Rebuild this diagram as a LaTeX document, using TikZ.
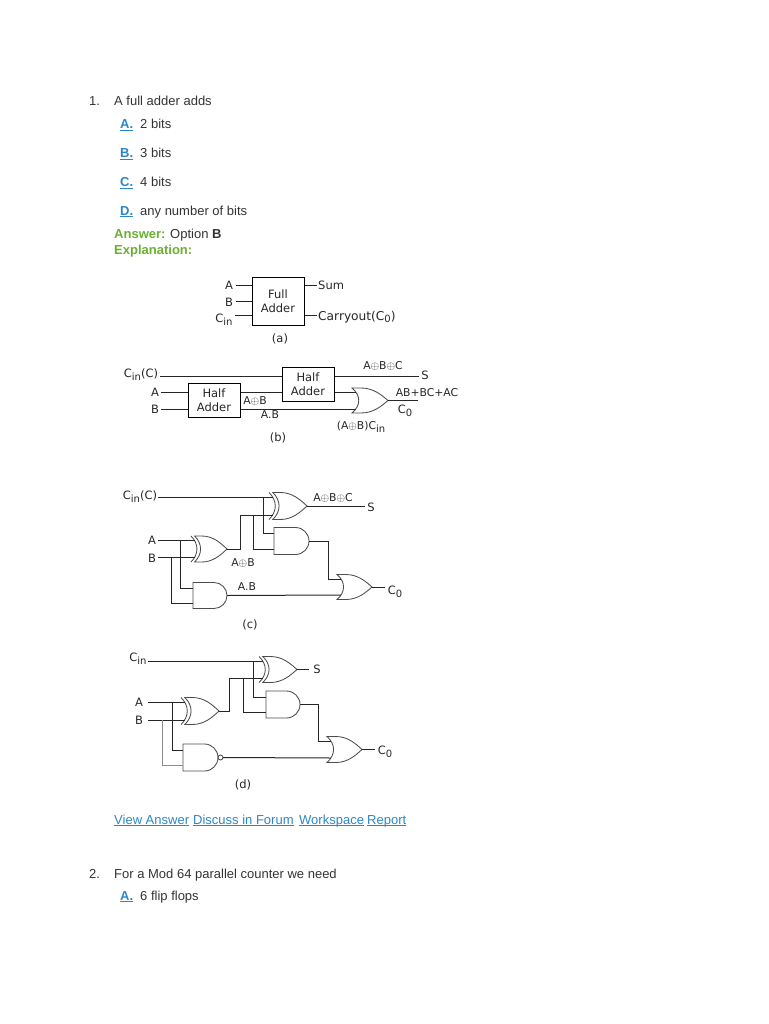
\documentclass[tikz,border=0pt]{standalone}
\usepackage{fontspec}
\setmainfont{Liberation Sans}
\newfontfamily\figfont{DejaVu Sans}
\definecolor{linkblue}{HTML}{2A86C8}
\definecolor{answergreen}{HTML}{6CAE32}
\definecolor{bodygray}{HTML}{333333}
\newcommand{\xo}{\ensuremath{\oplus}}
\newcommand{\subs}[1]{\raisebox{-2.8pt}{\fontsize{10}{10}\selectfont #1}}

\tikzset{
  % #1 width, #2 height, #3 distance between the inputs
  pics/orgate/.style n args={3}{code={
    \draw [gateline] ({-#1/2},{-#2/2}) -- ({-.25*#1},{-#2/2})
      .. controls ({.1*#1},{-#2/2}) and ({.32*#1},{-.22*#2}) .. ({#1/2},0)
      .. controls ({.32*#1},{.22*#2}) and ({.1*#1},{#2/2}) .. ({-.25*#1},{#2/2})
      -- ({-#1/2},{#2/2})
      .. controls ({-.25*#1},{.2*#2}) and ({-.25*#1},{-.2*#2}) .. cycle;
    \coordinate (-in1) at ({-.39*#1},{-#3/2});
    \coordinate (-in2) at ({-.39*#1},{#3/2});
    \coordinate (-out) at ({#1/2},0);
  }},
  pics/xorgate/.style n args={3}{code={
    \draw [gateline] ({-.4*#1},{-#2/2}) -- ({-.2*#1},{-#2/2})
      .. controls ({.12*#1},{-#2/2}) and ({.33*#1},{-.22*#2}) .. ({#1/2},0)
      .. controls ({.33*#1},{.22*#2}) and ({.12*#1},{#2/2}) .. ({-.2*#1},{#2/2})
      -- ({-.4*#1},{#2/2})
      .. controls ({-.18*#1},{.2*#2}) and ({-.18*#1},{-.2*#2}) .. cycle;
    \draw [gateline] ({-.5*#1},{-#2/2})
      .. controls ({-.28*#1},{-.2*#2}) and ({-.28*#1},{.2*#2}) .. ({-.5*#1},{#2/2});
    \coordinate (-in1) at ({-.39*#1},{-#3/2});
    \coordinate (-in2) at ({-.39*#1},{#3/2});
    \coordinate (-out) at ({#1/2},0);
  }},
  pics/andgate/.style n args={3}{code={
    \draw [gateline] ({-#1/2},{-#2/2}) -- ({#1/2-#2/2},{-#2/2})
      .. controls ({#1/2-.225*#2},{-#2/2}) and ({#1/2},{-.275*#2}) .. ({#1/2},0)
      .. controls ({#1/2},{.275*#2}) and ({#1/2-.225*#2},{#2/2}) .. ({#1/2-#2/2},{#2/2})
      -- ({-#1/2},{#2/2}) -- cycle;
    \coordinate (-in1) at ({-#1/2},{-#3/2});
    \coordinate (-in2) at ({-#1/2},{#3/2});
    \coordinate (-out) at ({#1/2},0);
  }},
  pics/nandgate/.style n args={3}{code={
    \pic (-body) {andgate={#1}{#2}{#3}};
    \draw [gateline] ({#1/2+2.5},0) circle [radius=2.5];
    \coordinate (-in1) at ({-#1/2},{-#3/2});
    \coordinate (-in2) at ({-#1/2},{#3/2});
    \coordinate (-out) at ({#1/2+5},0);
  }}
}

\begin{document}
\begin{tikzpicture}[
          x=1pt,
          y=-1pt,
          body/.style={
            anchor=base west,
            inner sep=0pt,
            text=bodygray,
            font=\fontsize{13}{15}\selectfont
          },
          option/.style={
            body,
            text=linkblue,
            font=\fontsize{13}{15}\selectfont\bfseries
          },
          link/.style={
            body,
            text=linkblue
          },
          green/.style={
            body,
            text=answergreen,
            font=\fontsize{13}{15}\selectfont\bfseries
          },
          fig/.style={
            inner sep=0pt,
            text=black!85,
            font=\figfont\fontsize{11.5}{13}\selectfont
          },
          small/.style={
            inner sep=0pt,
            text=black!85,
            font=\figfont\fontsize{10.8}{12}\selectfont
          },
          block/.style={
            draw=black,
            line width=1pt,
            inner sep=0pt,
            align=center,
            font=\figfont\fontsize{11.5}{14}\selectfont,
            text=black!85
          },
          wire/.style={
            draw=black!85,
            line width=1pt
          },
          gateline/.style={
            draw=black!70,
            line width=.85pt
          }
        ]
        \useasboundingbox (0,0) rectangle (768,1024);
        % question 1
        \node (num1) at (89,106) [body] {1.};
        \node (ques1) at (114,106) [body] {A full adder adds};
        \node (optA) at (120,129) [option] {\underline{A.}};
        \node (txtA) at (140,129) [body] {2 bits};
        \node (optB) at (120,158) [option] {\underline{B.}};
        \node (txtB) at (140,158) [body] {3 bits};
        \node (optC) at (120,187) [option] {\underline{C.}};
        \node (txtC) at (140,187) [body] {4 bits};
        \node (optD) at (120,215) [option] {\underline{D.}};
        \node (txtD) at (140,215) [body] {any number of bits};
        \node (answer) at (114,238) [green] {Answer:};
        \node (optn) at (170,238) [body] {Option \textbf{B}};
        \node (expl) at (114,254) [green] {Explanation:};

        % (a)
        \node (full) at (278,301) [block,minimum width=52pt,minimum height=48pt] {Full\\Adder};
        \node (aA) at (229,285) [fig] {A};
        \node (aB) at (229,302) [fig] {B};
        \node (aC) at (224,320) [fig] {C\subs{in}};
        \node (aSum) at (318,285) [fig,anchor=west] {Sum};
        \node (aCar) at (318,317) [fig,anchor=west,font=\figfont\fontsize{12.2}{14}\selectfont] {Carryout(C\subs{0})};
        \node (aCap) at (280,339) [fig] {(a)};
        \coordinate (aAe) at (236,285);
        \coordinate (aBe) at (236,301);
        \coordinate (aCe) at (235,315);
        \coordinate (aSe) at (317,285);
        \coordinate (aDe) at (317,315);
        \draw [wire] (aAe) -- (aAe -| full.west);
        \draw [wire] (aBe) -- (aBe -| full.west);
        \draw [wire] (aCe) -- (aCe -| full.west);
        \draw [wire] (aSe -| full.east) -- (aSe);
        \draw [wire] (aDe -| full.east) -- (aDe);

        % (b)
        \node (ha1) at (214,400) [block,minimum width=52pt,minimum height=34pt] {Half\\Adder};
        \node (ha2) at (308,384) [block,minimum width=52pt,minimum height=34pt] {Half\\Adder};
        \pic (orB) at (370,400.5) {orgate={36}{25}{17}};
        \node (bC) at (141,375) [fig] {C\subs{in}(C)};
        \node (bA) at (155,392) [fig] {A};
        \node (bB) at (155,409) [fig] {B};
        \node (bS) at (425,375) [fig] {S};
        \node (bSum) at (383,366) [small] {A\xo B\xo C};
        \node (bCar) at (427,393) [small] {AB+BC+AC};
        \node (bCo) at (405,411) [fig] {C\subs{0}};
        \node (bAb) at (255,401) [small] {A\xo B};
        \node (bAc) at (270,415) [small] {A.B};
        \node (bMix) at (361,427) [small] {(A\xo B)C\subs{in}};
        \node (bCap) at (278,438) [fig] {(b)};
        \coordinate (bCe) at (160,376);
        \coordinate (bAe) at (161,392);
        \coordinate (bBe) at (161,409);
        \coordinate (bSe) at (419,376);
        \coordinate (bOe) at (418,400.5);
        \draw [wire] (bCe) -- (bCe -| ha2.west);
        \draw [wire] (bCe -| ha2.east) -- (bSe);
        \draw [wire] (bAe) -- (bAe -| ha1.west);
        \draw [wire] (bBe) -- (bBe -| ha1.west);
        \draw [wire] (bAe -| ha1.east) -- (bAe -| ha2.west);
        \draw [wire] (bAe -| ha2.east) -- (orB-in1);
        \draw [wire] (bBe -| ha1.east) -- (orB-in2);
        \draw [wire] (orB-out) -- (bOe);

        % (c)
        \pic (xorS) at (288,506) {xorgate={38}{27}{18}};
        \pic (xorH) at (209,549) {xorgate={36}{26}{17}};
        \pic (andU) at (291.5,541) {andgate={35}{27}{16}};
        \pic (andL) at (210,595.5) {andgate={34}{26}{15}};
        \pic (orC) at (354.5,587) {orgate={35}{25}{16}};
        \node (cC) at (140,497) [fig] {C\subs{in}(C)};
        \node (cA) at (152,540) [fig] {A};
        \node (cB) at (152,558) [fig] {B};
        \node (cS) at (371,507) [fig] {S};
        \node (cSum) at (333,498) [small] {A\xo B\xo C};
        \node (cAb) at (243,563) [small] {A\xo B};
        \node (cAc) at (247,587) [small] {A.B};
        \node (cCo) at (395,592) [fig] {C\subs{0}};
        \node (cCap) at (250,625) [fig] {(c)};
        \coordinate (cCe) at (158,497);
        \coordinate (cAe) at (158,540.5);
        \coordinate (cBe) at (158,557.5);
        \coordinate (cSe) at (365,506);
        \coordinate (cOe) at (385,587);
        \coordinate (cJ1) at (263,497);
        \coordinate (cJ2) at (240,515);
        \coordinate (cJ3) at (253,515);
        \coordinate (cJ4) at (180,540.5);
        \coordinate (cJ5) at (171,557.5);
        \coordinate (cJ6) at (328,579);
        \draw [wire] (cCe) -- (xorS-in1);
        \draw [wire] (xorS-out) -- (cSe);
        \draw [wire] (xorH-out) -| (cJ2) -- (xorS-in2);
        \draw [wire] (cJ1) |- (andU-in1);
        \draw [wire] (cJ3) |- (andU-in2);
        \draw [wire] (cAe) -- (xorH-in1);
        \draw [wire] (cBe) -- (xorH-in2);
        \draw [wire] (cJ4) |- (andL-in1);
        \draw [wire] (cJ5) |- (andL-in2);
        \draw [wire] (andU-out) -| (cJ6) -- (orC-in1);
        \draw [wire] (andL-out) -- (orC-in2);
        \draw [wire] (orC-out) -- (cOe);

        % (d)
        \pic (xorT) at (278,669.5) {xorgate={38}{26}{17}};
        \pic (xorI) at (200,711) {xorgate={38}{27}{18}};
        \pic (andD) at (283,704.5) {andgate={34}{27}{15}};
        \pic (nandD) at (200.5,757.5) {nandgate={35}{27}{15}};
        \pic (orD) at (344.5,749.5) {orgate={35}{26}{17}};
        \node (dC) at (138,659) [fig] {C\subs{in}};
        \node (dA) at (139,702) [fig] {A};
        \node (dB) at (139,720) [fig] {B};
        \node (dS) at (317,669) [fig] {S};
        \node (dCo) at (385,752) [fig] {C\subs{0}};
        \node (dCap) at (243,785) [fig] {(d)};
        \coordinate (dCe) at (148,661);
        \coordinate (dAe) at (148,702);
        \coordinate (dBe) at (148,720);
        \coordinate (dSe) at (309,669.5);
        \coordinate (dOe) at (375,749.5);
        \coordinate (dJ1) at (253,661);
        \coordinate (dJ2) at (229,678);
        \coordinate (dJ3) at (243,678);
        \coordinate (dJ4) at (172,702);
        \coordinate (dJ5) at (162,720);
        \coordinate (dJ6) at (318,741);
        \draw [wire] (dCe) -- (xorT-in1);
        \draw [wire] (xorT-out) -- (dSe);
        \draw [wire] (xorI-out) -| (dJ2) -- (xorT-in2);
        \draw [wire] (dJ1) |- (andD-in1);
        \draw [wire] (dJ3) |- (andD-in2);
        \draw [wire] (dAe) -- (xorI-in1);
        \draw [wire] (dBe) -- (xorI-in2);
        \draw [wire] (dJ4) |- (nandD-in1);
        \draw [wire,draw=black!45] (dJ5) |- (nandD-in2);
        \draw [wire] (andD-out) -| (dJ6) -- (orD-in1);
        \draw [wire] (nandD-out) -- (orD-in2);
        \draw [wire] (orD-out) -- (dOe);

        % links
        \node (view) at (114,824) [link] {\underline{View Answer}};
        \node (disc) at (193,824) [link] {\underline{\smash{Discuss in Forum}}};
        \node (work) at (299,824) [link] {\underline{\smash{Workspace}}};
        \node (repo) at (367,824) [link] {\underline{\smash{Report}}};

        % question 2
        \node (num2) at (89,878) [body] {2.};
        \node (ques2) at (114,878) [body] {For a Mod 64 parallel counter we need};
        \node (opt2A) at (120,900) [option] {\underline{A.}};
        \node (txt2A) at (140,900) [body] {6 flip flops};
      \end{tikzpicture}
\end{document}
